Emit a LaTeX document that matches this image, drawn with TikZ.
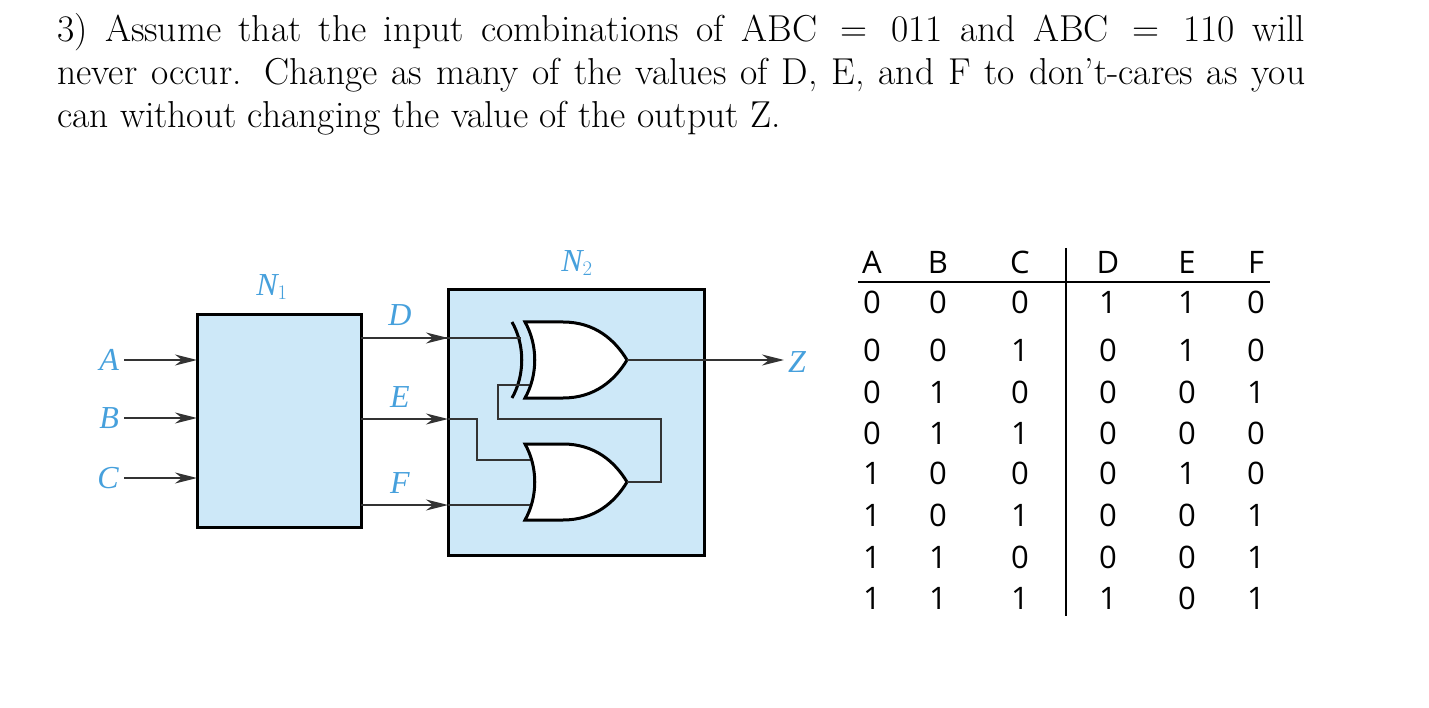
\documentclass[tikz,border=0pt]{standalone}
\usepackage{fontspec}
\newfontfamily\tabfont{Open Sans}
\newfontfamily\labfont{Liberation Serif}
\usetikzlibrary{arrows.meta}
\definecolor{lblue}{RGB}{205,232,248}
\definecolor{tblue}{RGB}{70,160,220}
\tikzset{
 lab/.style={text=tblue,font=\labfont\itshape\fontsize{32}{32}\selectfont,inner sep=0},
 wire/.style={line width=2pt,draw=black!80},
 arr/.style={wire,-{Stealth[length=22pt,width=11pt,inset=7pt]}},
 gate/.style={line width=3pt,fill=white},
 cell/.style={font=\tabfont\fontsize{31}{31}\selectfont,inner sep=0}
}
\begin{document}
\begin{tikzpicture}[x=1pt,y=-1pt]
\useasboundingbox (0,0) rectangle (1429,708);
\node[anchor=north west,inner sep=0,text width=1248pt,align=justify,font=\fontsize{37.5}{43}\selectfont] (txt) at (57,13)
{3) Assume that the input combinations of ABC\, = \,011 and ABC\, = \,110 will\linebreak never occur. Change as many of the values of D, E, and F to don't-cares as you\linebreak can without changing the value of the output Z.};
% N1
\node[draw,line width=3pt,fill=lblue,minimum width=164pt,minimum height=212pt,inner sep=0] (n1) at (279,421) {};
\node[lab] (n1l) at (272,287) {N$_1$};
\foreach \n/\t/\y in {a/A/360,b/B/418,c/C/478}{
 \coordinate (\n s) at (124,\y);
 \node[lab,anchor=east] (\n l) at (119,\y) {\t};
 \draw[arr] (\n s) -- (197,\y);
}
% N2
\node[draw,line width=3pt,fill=lblue,minimum width=256pt,minimum height=265pt,inner sep=0] (n2) at (576,422.5) {};
\node[lab] (n2l) at (577,263) {N$_2$};
\node[lab] (dl) at (400,315) {D};
\node[lab] (el) at (400,397) {E};
\node[lab] (fl) at (400,483) {F};
% gates
\draw[gate] (525,322) -- (563,322) .. controls (595,322) and (615,340) .. (627,360) .. controls (615,380) and (595,398) .. (563,398) -- (525,398) .. controls (538,375) and (538,345) .. (525,322) -- cycle;
\draw[line width=3pt] (512,322) .. controls (525,345) and (525,375) .. (512,398);
\draw[gate] (525,444) -- (563,444) .. controls (595,444) and (615,462) .. (627,482) .. controls (615,502) and (595,520) .. (563,520) -- (525,520) .. controls (538,497) and (538,467) .. (525,444) -- cycle;
\coordinate (xo) at (627,360);
\coordinate (oo) at (627,482);
% wires
\draw[wire] (361,338) -- (521,338);
\draw[arr] (361,338) -- (448,338);
\draw[arr] (361,419) -- (448,419);
\draw[wire] (448,419) -- (477,419) -- (477,460) -- (530,460);
\draw[arr] (361,505) -- (448,505);
\draw[wire] (448,505) -- (530,505);
\draw[wire] (oo) -- (661,482) -- (661,419) -- (498,419) -- (498,385) -- (529,385);
\coordinate (zend) at (784,360);
\draw[arr] (xo) -- (zend);
\node[lab,anchor=west] (zl) at (788,362) {Z};
% table
\foreach \h/\x in {A/872,B/938,C/1020,D/1108,E/1187,F/1256}
 \node[cell] (h\h) at (\x,262) {\h};
\draw[line width=2.2pt] (858,282) -- (1270,282);
\draw[line width=2.2pt] (1066,248) -- (1066,616);
\foreach \r/\y [count=\i] in {{0,0,0,1,1,0}/302,{0,0,1,0,1,0}/350,{0,1,0,0,0,1}/392,{0,1,1,0,0,0}/433,{1,0,0,0,1,0}/473,{1,0,1,0,0,1}/515,{1,1,0,0,0,1}/557,{1,1,1,1,0,1}/598}{
 \foreach \dig [count=\j] in \r {
  \pgfmathsetmacro\xx{{872,938,1020,1108,1187,1256}[\j-1]}
  \node[cell] (c\i-\j) at (\xx,\y) {\dig};
 }
}
\end{tikzpicture}
\end{document}
